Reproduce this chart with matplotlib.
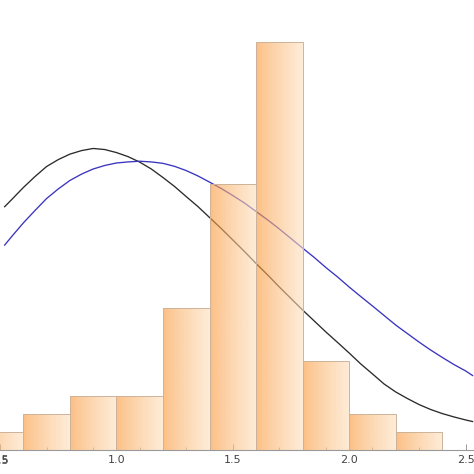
import numpy as np
import matplotlib
matplotlib.use("Agg")
import matplotlib.pyplot as plt

# Histogram (bin left edges, width 0.2) and counts
bin_left = [0.4, 0.6, 0.8, 1.0, 1.2, 1.4, 1.6, 1.8, 2.0, 2.2]
counts = [1, 2, 3, 3, 8, 15, 23, 5, 2, 1]
bin_width = 0.2

# Fitted curves (same units as counts)
curve_x = [0.52, 0.55, 0.60, 0.65, 0.70, 0.75, 0.80, 0.85, 0.90, 0.95,
           1.00, 1.05, 1.10, 1.15, 1.20, 1.25, 1.30, 1.35, 1.40, 1.45,
           1.50, 1.55, 1.60, 1.65, 1.70, 1.75, 1.80, 1.85, 1.90, 1.95,
           2.00, 2.05, 2.10, 2.15, 2.20, 2.25, 2.30, 2.35, 2.40, 2.45,
           2.50, 2.53]
black_y = [13.72, 14.12, 14.80, 15.42, 15.99, 16.38, 16.69, 16.89, 17.01, 16.95,
           16.78, 16.55, 16.24, 15.85, 15.37, 14.86, 14.29, 13.73, 13.11, 12.49,
           11.84, 11.19, 10.51, 9.86, 9.18, 8.53, 7.88, 7.26, 6.64, 6.05,
           5.45, 4.83, 4.27, 3.70, 3.25, 2.88, 2.54, 2.26, 2.03, 1.84,
           1.67, 1.58]
blue_y = [11.55, 12.03, 12.80, 13.50, 14.18, 14.72, 15.20, 15.56, 15.85, 16.05,
          16.19, 16.25, 16.29, 16.25, 16.17, 16.00, 15.76, 15.46, 15.11, 14.75,
          14.35, 13.93, 13.45, 12.97, 12.46, 11.92, 11.38, 10.85, 10.28, 9.75,
          9.18, 8.64, 8.11, 7.57, 7.03, 6.55, 6.07, 5.62, 5.20, 4.80,
          4.44, 4.18]

tick_vals = [0.5, 1.0, 1.5, 2.0, 2.5]

fig = plt.figure(figsize=(4.74, 4.74), dpi=100)
ax = fig.add_axes([0, 0, 1, 1])

# curves sit below the semi-transparent bars
ax.plot(curve_x, black_y, color="#2b2b2b", lw=0.95, zorder=1)
ax.plot(curve_x, blue_y, color="#3a34c0", lw=0.95, zorder=1)

# horizontal orange gradient for the bars
left_c = np.array([250, 147, 47]) / 255
right_c = np.array([253, 224, 190]) / 255
t = np.linspace(0, 1, 64) ** 0.8
grad = np.zeros((1, 64, 4))
grad[0, :, :3] = left_c + (right_c - left_c) * t[:, None]
grad[0, :, 3] = 0.6

for x0, c in zip(bin_left, counts):
    ax.imshow(grad, extent=(x0, x0 + bin_width, 0, c), aspect="auto",
              interpolation="bilinear", zorder=2)
ax.bar(bin_left, counts, width=bin_width, align="edge", fill=False,
       edgecolor="#cdb39b", linewidth=0.7, zorder=3)

ax.set_xlim(0.519, 2.536)
ax.set_ylim(-1.384, 25.40)

for s in ["top", "left", "right"]:
    ax.spines[s].set_visible(False)
ax.spines["bottom"].set_position(("data", 0))
ax.spines["bottom"].set_color("#9a9a9a")
ax.spines["bottom"].set_linewidth(0.8)
ax.spines["bottom"].set_zorder(4)
ax.yaxis.set_visible(False)

ax.set_xticks(tick_vals)
ax.set_xticks(np.arange(0.6, 2.5, 0.1), minor=True)
ax.tick_params(axis="x", which="major", direction="in", length=4, width=0.7,
               color="#9a9a9a", labelsize=8, labelcolor="#444444", pad=4)
ax.tick_params(axis="x", which="minor", direction="in", length=2, width=0.6,
               color="#9a9a9a")

# 0.5 label sits just outside the left edge, only partly visible
ax.annotate("0.5", xy=(0.5, 0), xycoords="data", xytext=(0, -5),
            textcoords="offset points", ha="center", va="top",
            fontsize=8, color="#444444", annotation_clip=False)

fig.savefig("out.png", dpi=100, facecolor="white")
